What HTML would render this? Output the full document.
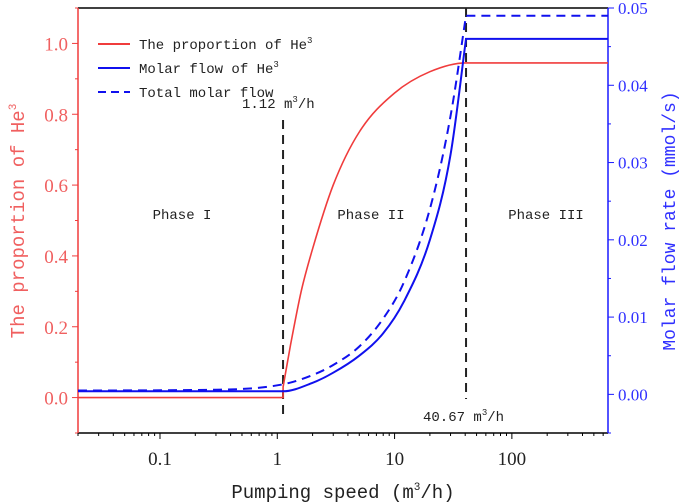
<!DOCTYPE html>
<html><head><meta charset="utf-8"><style>
html,body{margin:0;padding:0;background:#fff;}
svg{display:block;font-family:"Liberation Mono","Noto Serif CJK SC",monospace;}
</style></head><body>
<svg id="c" width="685" height="504" viewBox="0 0 685 504" xmlns="http://www.w3.org/2000/svg"></svg>
<script>
const propX=[0.02,1.12,1.12,1.3,1.6,2,3,5,10,20,40.67,660];
const propY=[0,0,0.03,0.15,0.3,0.42,0.6,0.75,0.86,0.92,0.945,0.945];
const heX=[0.02,1.12,2,3,5,8,12,20,30,40.67,40.67,660];
const heY=[0.0004,0.0004,0.0015,0.0028,0.005,0.0079,0.012,0.02,0.031,0.046,0.046,0.046];
const totX=[0.02,0.3,1.12,2,3,5,8,12,20,30,40.67,40.67,660];
const totY=[0.0005,0.0006,0.0013,0.0025,0.0038,0.0062,0.0098,0.0145,0.024,0.036,0.049,0.049,0.049];
const leftTicks=[0,0.2,0.4,0.6,0.8,1.0];
const leftLabels=["0.0","0.2","0.4","0.6","0.8","1.0"];
const rightTicks=[0,0.01,0.02,0.03,0.04,0.05];
const rightLabels=["0.00","0.01","0.02","0.03","0.04","0.05"];
const xTicks=[0.1,1,10,100];
const xLabels=["0.1","1","10","100"];
const markers=[1.12,40.67];

const L=78,R=608,T=8,B=433;
const lx0=Math.log10(0.02),lx1=Math.log10(660);
const X=v=>L+(Math.log10(v)-lx0)/(lx1-lx0)*(R-L);
const Y1=v=>B-(v+0.1)/1.2*(B-T);
const Y2=v=>B-(v+0.005)/0.055*(B-T);
const svg=document.getElementById('c');
const NS='http://www.w3.org/2000/svg';
function mk(tag,attrs,parent){const e=document.createElementNS(NS,tag);for(const k in attrs)e.setAttribute(k,attrs[k]);(parent||svg).appendChild(e);return e;}
function txt(s,x,y,attrs){const e=mk('text',Object.assign({x:x,y:y},attrs));e.innerHTML=s;return e;}

let e=mk('line',{x1:L,y1:T,x2:R,y2:T,stroke:'#000','stroke-width':1.5});

e=mk('line',{x1:L,y1:B,x2:R,y2:B,stroke:'#000','stroke-width':1.5});

e=mk('line',{x1:L,y1:T,x2:L,y2:B,stroke:'#f03c3c','stroke-width':1.5});

e=mk('line',{x1:R,y1:T,x2:R,y2:B,stroke:'#1a1aff','stroke-width':1.5});


for(let k=-1;k<=11;k++){const v=k/10;const y=Y1(v);const major=k%2===0;
 e=mk('line',{x1:L,y1:y,x2:L-(major?6:3),y2:y,stroke:'#f03c3c','stroke-width':1});
 }
leftTicks.forEach((v,i)=>{e=txt(leftLabels[i],L-10,Y1(v)+7,{'text-anchor':'end','font-size':19,fill:'#f06060','font-family':'Liberation Serif,serif'});
 });
for(let k=-1;k<=10;k++){const v=k*0.005;const y=Y2(v);const major=k%2===0;
 e=mk('line',{x1:R,y1:y,x2:R+(major?6:3),y2:y,stroke:'#1a1aff','stroke-width':1});
 }
rightTicks.forEach((v,i)=>{e=txt(rightLabels[i],R+10,Y2(v)+6,{'font-size':17,fill:'#3030ff','font-family':'Liberation Serif,serif'});
 });
for(let d=-2;d<=2;d++){for(let m=1;m<10;m++){const v=m*Math.pow(10,d);if(v<0.02||v>660)continue;
 const x=X(v);e=mk('line',{x1:x,y1:B,x2:x,y2:B+(m===1?6:3),stroke:'#000','stroke-width':1});
 }}
xTicks.forEach((v,i)=>{e=txt(xLabels[i],X(v),B+32,{'text-anchor':'middle','font-size':19,fill:'#222','font-family':'Liberation Serif,serif'});
 });

e=txt('Pumping speed (m<tspan font-size="11" dy="-8">3</tspan><tspan dy="8">/h)</tspan>',343,498,{'text-anchor':'middle','font-size':19,fill:'#222'});

e=txt('The proportion of He<tspan font-size="11" dy="-8">3</tspan>',0,0,{'text-anchor':'middle','font-size':19,fill:'#f06060',transform:'translate(24,221) rotate(-90)'});

e=txt('Molar flow rate (mmol/s)',0,0,{'text-anchor':'middle','font-size':18,fill:'#3030ff',transform:'translate(675,221) rotate(-90)'});


e=mk('line',{x1:X(markers[0]),y1:120,x2:X(markers[0]),y2:414,stroke:'#222','stroke-width':2,'stroke-dasharray':'9,6'});

e=mk('line',{x1:X(markers[1]),y1:T,x2:X(markers[1]),y2:399,stroke:'#222','stroke-width':2,'stroke-dasharray':'9,6'});

e=txt('1.12 m<tspan font-size="9" dy="-6">3</tspan><tspan dy="6">/h</tspan>',242,108,{'font-size':14,fill:'#222'});

e=txt('40.67 m<tspan font-size="9" dy="-6">3</tspan><tspan dy="6">/h</tspan>',423,421,{'font-size':14,fill:'#222'});


[['Phase I',182],['Phase II',371],['Phase III',546]].forEach(p=>{e=txt(p[0],p[1],219,{'text-anchor':'middle','font-size':14,fill:'#222'});
 });

// monotone cubic per continuous piece (split at vertical jumps)
function mono(pts){let d='M'+pts[0][0].toFixed(1)+','+pts[0][1].toFixed(1);const n=pts.length;if(n<2)return d;
 const dx=[],s=[];for(let i=0;i<n-1;i++){dx.push(pts[i+1][0]-pts[i][0]);s.push((pts[i+1][1]-pts[i][1])/dx[i]);}
 const m=[s[0]];for(let i=1;i<n-1;i++){m.push(s[i-1]*s[i]<=0?0:(s[i-1]+s[i])/2);}m.push(s[n-2]);
 for(let i=0;i<n-1;i++){if(s[i]===0){m[i]=0;m[i+1]=0;continue;}const a=m[i]/s[i],b=m[i+1]/s[i],h=a*a+b*b;
  if(h>9){const t=3/Math.sqrt(h);m[i]=t*a*s[i];m[i+1]=t*b*s[i];}}
 for(let i=0;i<n-1;i++){const h=dx[i]/3;d+=' C'+(pts[i][0]+h).toFixed(1)+','+(pts[i][1]+m[i]*h).toFixed(1)+' '+(pts[i+1][0]-h).toFixed(1)+','+(pts[i+1][1]-m[i+1]*h).toFixed(1)+' '+pts[i+1][0].toFixed(1)+','+pts[i+1][1].toFixed(1);}
 return d;}
function curve(xs,ys,Yf){const pts=xs.map((x,i)=>[X(x),Yf(ys[i])]);let d='',piece=[pts[0]];
 for(let i=1;i<pts.length;i++){if(pts[i][0]-pts[i-1][0]<0.5){d+=mono(piece)+' L'+pts[i][0].toFixed(1)+','+pts[i][1].toFixed(1)+' ';piece=[pts[i]];}else piece.push(pts[i]);}
 const md=mono(piece);return d+(d?' L'+md.slice(1):md);}
e=mk('path',{d:curve(propX,propY,Y1),fill:'none',stroke:'#f03c3c','stroke-width':1.6});

e=mk('path',{d:curve(heX,heY,Y2),fill:'none',stroke:'#1010ee','stroke-width':2});

e=mk('path',{d:curve(totX,totY,Y2),fill:'none',stroke:'#1010ee','stroke-width':2,'stroke-dasharray':'9,6'});


const lg=mk('g',{});
[['The proportion of He<tspan font-size="9" dy="-6">3</tspan>','#f03c3c',''],['Molar flow of He<tspan font-size="9" dy="-6">3</tspan>','#1010ee',''],['Total molar flow','#1010ee','8,5']].forEach((it,i)=>{
 const y=44+i*24;
 e=mk('line',{x1:98,y1:y,x2:130,y2:y,stroke:it[1],'stroke-width':2,'stroke-dasharray':it[2]},lg);
 
 e=mk('text',{x:139,y:y+5,'font-size':14,fill:'#222'},lg);e.innerHTML=it[0];
 });
</script>
</body></html>
